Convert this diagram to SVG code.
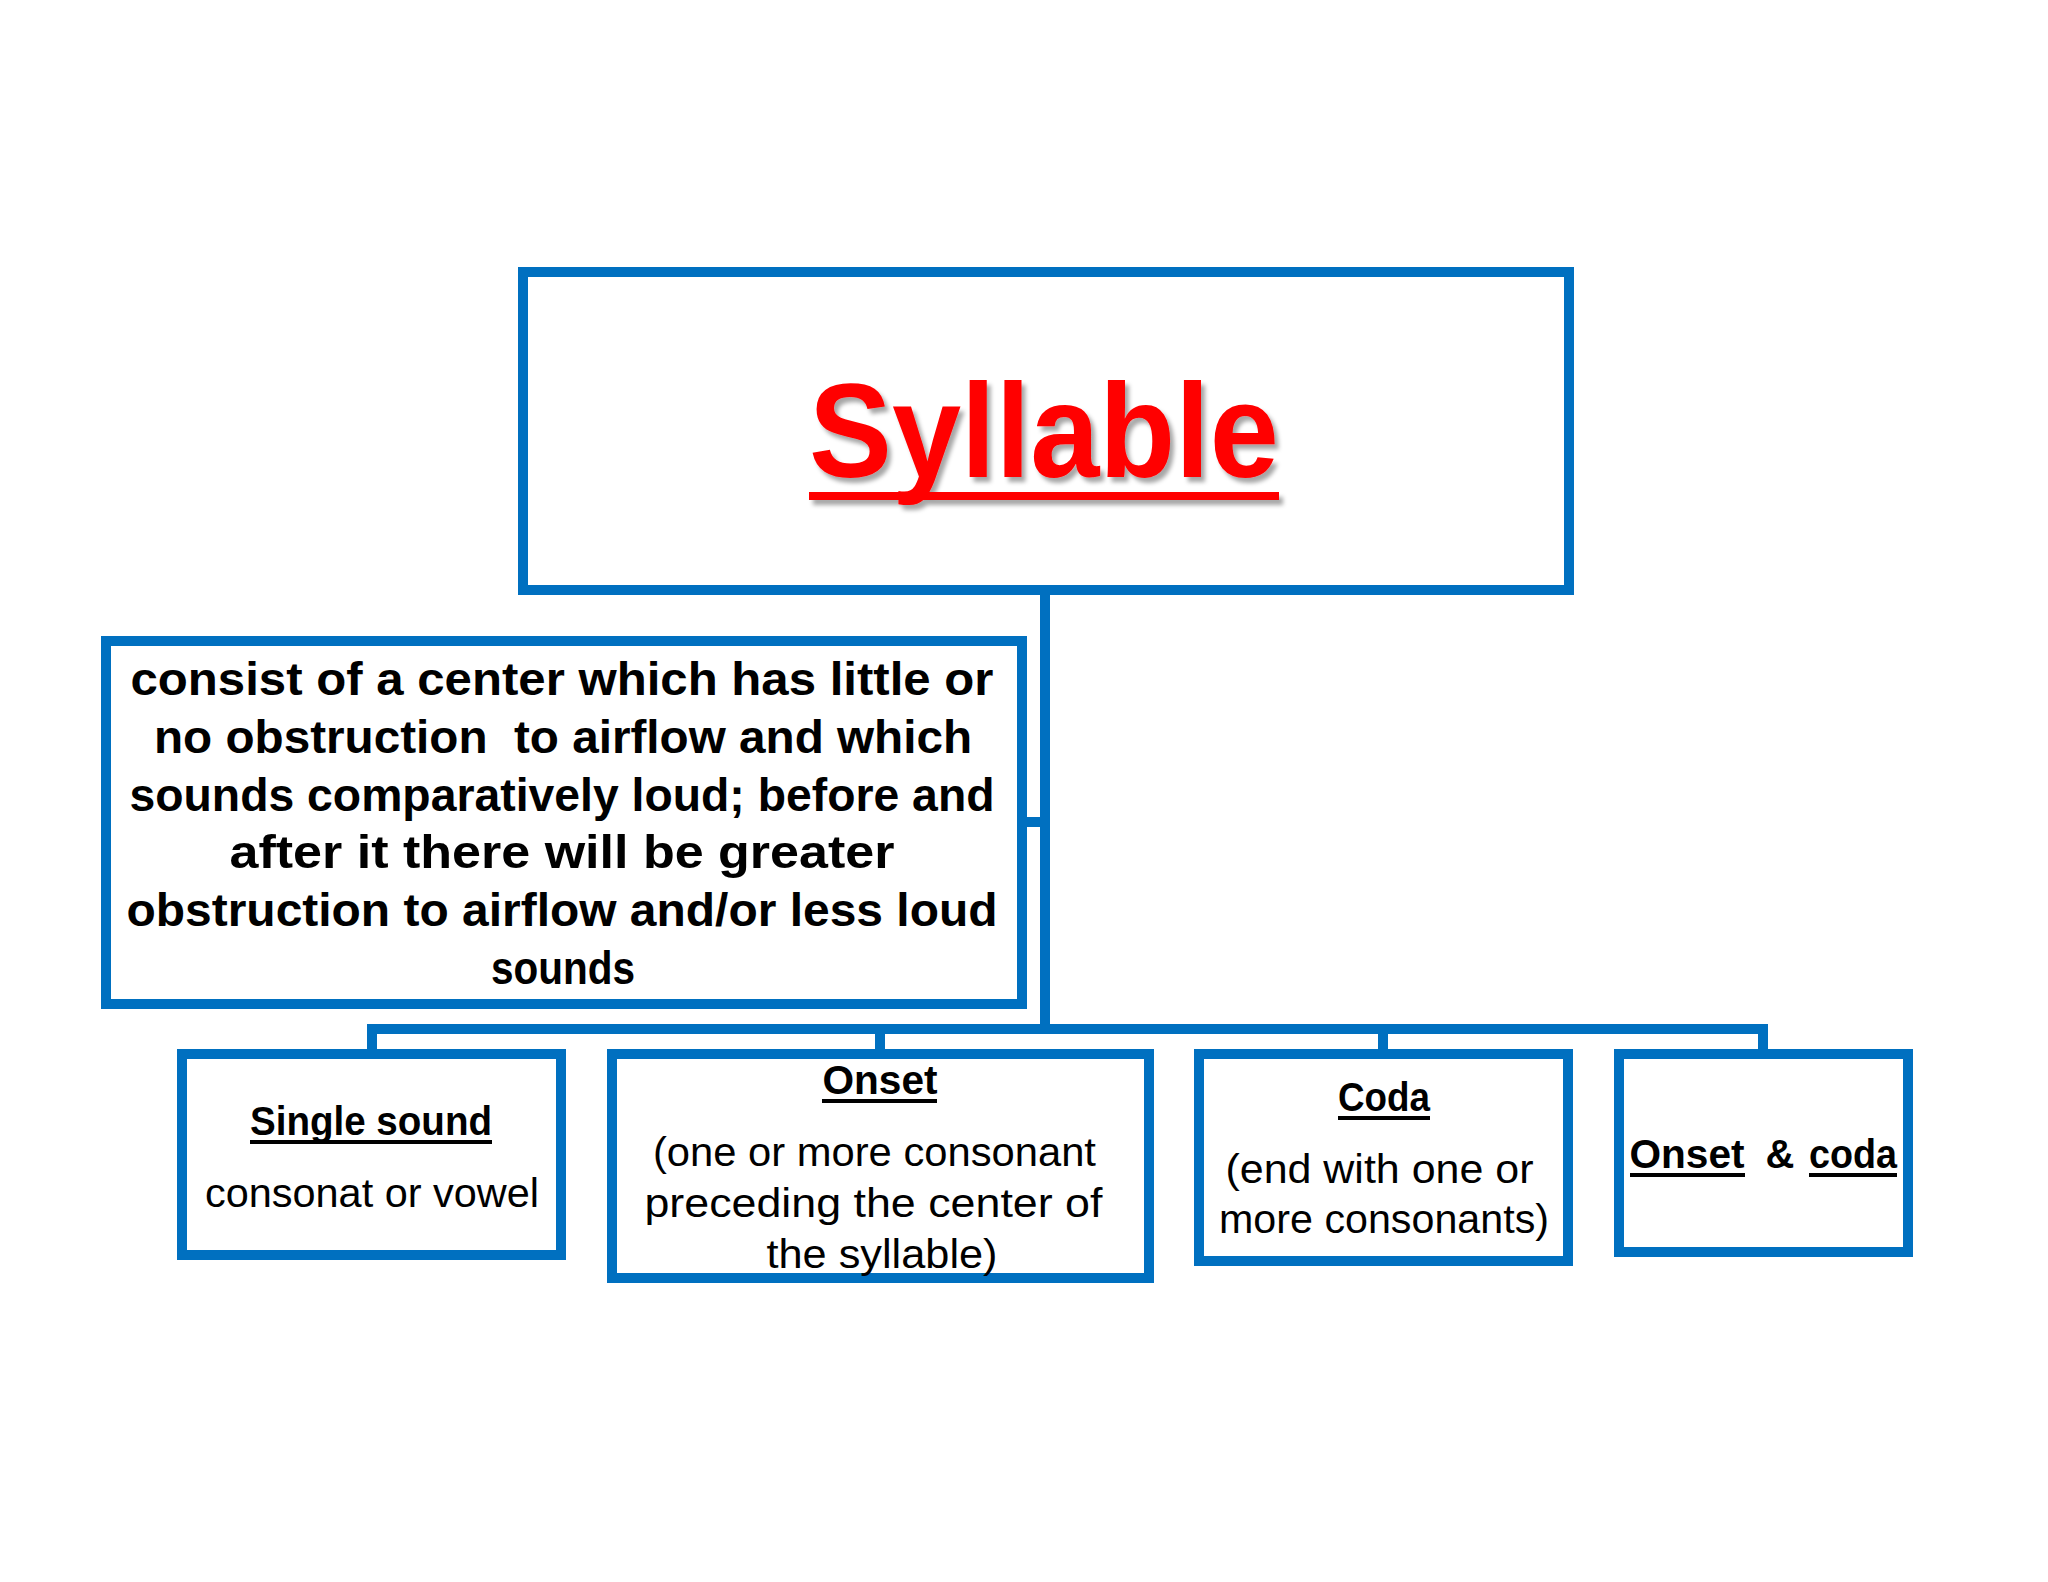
<svg xmlns="http://www.w3.org/2000/svg" width="2048" height="1582" viewBox="0 0 2048 1582">
<style>
.box{fill:#FFFFFF;stroke:#0070C0;stroke-width:10}
.conn{stroke:#0070C0;stroke-width:10;fill:none;stroke-linecap:square}
.t{font-family:"Liberation Sans",Arial,sans-serif;fill:#000;text-anchor:middle}
.b{font-weight:bold}
.ul{fill:#000}
</style>
<defs>
<filter id="sh" x="-10%" y="-10%" width="130%" height="140%">
<feDropShadow dx="4" dy="5" stdDeviation="2" flood-color="#000" flood-opacity="0.35"/>
</filter>
</defs>
<rect x="0" y="0" width="2048" height="1582" fill="#FFFFFF"/>
<g id="connectors">
<line class="conn" x1="1045" y1="595" x2="1045" y2="1029"/>
<line class="conn" x1="1027" y1="822" x2="1045" y2="822"/>
<line class="conn" x1="372" y1="1029" x2="1763" y2="1029"/>
<line class="conn" x1="372" y1="1029" x2="372" y2="1049"/>
<line class="conn" x1="880" y1="1029" x2="880" y2="1049"/>
<line class="conn" x1="1383" y1="1029" x2="1383" y2="1049"/>
<line class="conn" x1="1763" y1="1029" x2="1763" y2="1049"/>
</g>
<g id="syllable">
<rect class="box" x="523" y="272" width="1046" height="318"/>
<g filter="url(#sh)">
<text class="t b" x="1044" y="477" font-size="134" fill="#FF0000" style="fill:#FF0000" textLength="470" lengthAdjust="spacingAndGlyphs">Syllable</text>
<rect x="809" y="492" width="470" height="8" fill="#FF0000"/>
</g>
</g>
<g id="description">
<rect class="box" x="106" y="641" width="916" height="363"/>
<text class="t b" font-size="46" xml:space="preserve"><tspan x="562" y="695" textLength="863" lengthAdjust="spacingAndGlyphs">consist of a center which has little or</tspan><tspan x="563" y="753" textLength="818" lengthAdjust="spacingAndGlyphs">no obstruction  to airflow and which</tspan><tspan x="562" y="811" textLength="865" lengthAdjust="spacingAndGlyphs">sounds comparatively loud; before and</tspan><tspan x="562" y="868" textLength="665" lengthAdjust="spacingAndGlyphs">after it there will be greater</tspan><tspan x="562" y="926" textLength="871" lengthAdjust="spacingAndGlyphs">obstruction to airflow and/or less loud</tspan><tspan x="563" y="984" textLength="144" lengthAdjust="spacingAndGlyphs">sounds</tspan></text>
</g>
<g id="single-sound">
<rect class="box" x="182" y="1054" width="379" height="201"/>
<text class="t b" x="371" y="1135" font-size="40" textLength="242" lengthAdjust="spacingAndGlyphs">Single sound</text>
<rect class="ul" x="250" y="1140" width="242" height="4"/>
<text class="t" x="372" y="1207" font-size="40" textLength="334" lengthAdjust="spacingAndGlyphs">consonat or vowel</text>
</g>
<g id="onset">
<rect class="box" x="612" y="1054" width="537" height="224"/>
<text class="t b" x="880" y="1094" font-size="40" textLength="115" lengthAdjust="spacingAndGlyphs">Onset</text>
<rect class="ul" x="822" y="1099" width="115" height="4"/>
<text class="t" font-size="40">
<tspan x="880" y="1166" textLength="443" lengthAdjust="spacingAndGlyphs">(one or more consonant</tspan>
<tspan x="879" y="1217" textLength="458" lengthAdjust="spacingAndGlyphs">preceding the center of</tspan>
<tspan x="882" y="1268" textLength="231" lengthAdjust="spacingAndGlyphs">the syllable)</tspan>
</text>
</g>
<g id="coda">
<rect class="box" x="1199" y="1054" width="369" height="207"/>
<text class="t b" x="1384" y="1111" font-size="40" textLength="92" lengthAdjust="spacingAndGlyphs">Coda</text>
<rect class="ul" x="1338" y="1116" width="92" height="4"/>
<text class="t" font-size="40">
<tspan x="1385" y="1183" textLength="308" lengthAdjust="spacingAndGlyphs">(end with one or</tspan>
<tspan x="1384" y="1233" textLength="330" lengthAdjust="spacingAndGlyphs">more consonants)</tspan>
</text>
</g>
<g id="onset-coda">
<rect class="box" x="1619" y="1054" width="289" height="198"/>
<text class="t b" x="1687" y="1168" font-size="40" textLength="115" lengthAdjust="spacingAndGlyphs">Onset</text>
<rect class="ul" x="1630" y="1173" width="115" height="4"/>
<text class="t b" x="1780" y="1168" font-size="40">&amp;</text>
<text class="t b" x="1853" y="1168" font-size="40" textLength="88" lengthAdjust="spacingAndGlyphs">coda</text>
<rect class="ul" x="1809" y="1173" width="88" height="4"/>
</g>
</svg>
